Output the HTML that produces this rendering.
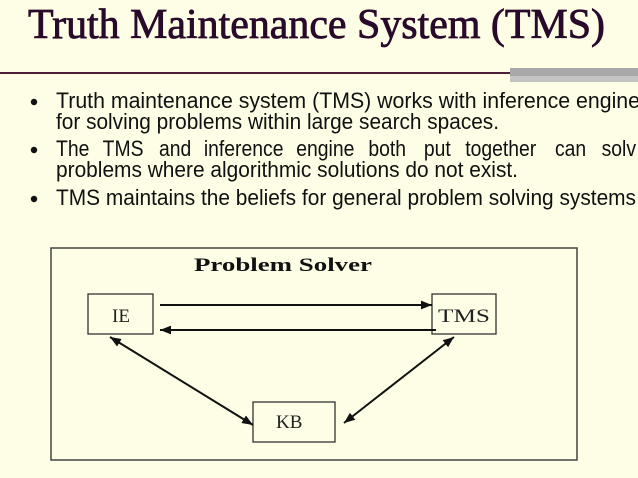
<!DOCTYPE html>
<html><head><style>html,body{margin:0;padding:0;background:#fefee6;width:638px;height:478px;overflow:hidden}</style></head>
<body>
<svg width="638" height="478" viewBox="0 0 638 478" xmlns="http://www.w3.org/2000/svg">
<defs>
<marker id="a" viewBox="0 0 10 10" refX="10" refY="5" markerWidth="11" markerHeight="11" markerUnits="userSpaceOnUse" orient="auto-start-reverse"><path d="M0,1 L10,5 L0,9 z" fill="#111"/></marker>
</defs>
<rect width="638" height="478" fill="#fefee6"/>
<text x="28" y="38" font-family="Liberation Serif, serif" font-size="42" fill="#2a0a2a" stroke="#2a0a2a" stroke-width="0.8" textLength="577" lengthAdjust="spacingAndGlyphs">Truth Maintenance System (TMS)</text>
<rect x="0" y="72" width="638" height="2" fill="#4a1f3a"/>
<rect x="510" y="68" width="128" height="14" fill="#a8a8a8"/>
<rect x="510" y="76" width="128" height="6" fill="#c4c4c4"/>
<g font-family="Liberation Sans, sans-serif" font-size="22" fill="#111">
<circle cx="34" cy="102" r="3.2"/><circle cx="34" cy="150" r="3.2"/><circle cx="34" cy="199" r="3.2"/>
<text x="56" y="108" textLength="584" lengthAdjust="spacingAndGlyphs">Truth maintenance system (TMS) works with inference engine</text>
<text x="56" y="129" textLength="443" lengthAdjust="spacingAndGlyphs">for solving problems within large search spaces.</text>
<g transform="translate(56,156) scale(0.88,1)"><text y="0"><tspan x="0">The</tspan><tspan x="53">TMS</tspan><tspan x="117">and</tspan><tspan x="168">inference</tspan><tspan x="273">engine</tspan><tspan x="355">both</tspan><tspan x="418">put</tspan><tspan x="465">together</tspan><tspan x="567">can</tspan><tspan x="620">solv</tspan></text></g>
<text x="56" y="177" textLength="462" lengthAdjust="spacingAndGlyphs">problems where algorithmic solutions do not exist.</text>
<text x="56" y="205" textLength="580" lengthAdjust="spacingAndGlyphs">TMS maintains the beliefs for general problem solving systems</text>
</g>
<rect x="51" y="248" width="526" height="212" fill="none" stroke="#444" stroke-width="1.5"/>
<text x="194" y="271" font-family="Liberation Serif, serif" font-weight="bold" font-size="19" fill="#111" textLength="178" lengthAdjust="spacingAndGlyphs">Problem Solver</text>
<g fill="none" stroke="#333" stroke-width="1.3">
<rect x="88" y="294" width="65" height="40"/>
<rect x="432" y="294" width="64" height="40"/>
<rect x="253" y="402" width="82" height="40"/>
</g>
<g font-family="Liberation Serif, serif" font-size="19" fill="#222">
<text x="112" y="322">IE</text>
<text x="438" y="322" textLength="52" lengthAdjust="spacingAndGlyphs">TMS</text>
<text x="276" y="428">KB</text>
</g>
<g stroke="#111" stroke-width="2" fill="none">
<line x1="160" y1="305" x2="432" y2="305" marker-end="url(#a)"/>
<line x1="436" y1="330" x2="160" y2="330" marker-end="url(#a)"/>
<line x1="110" y1="337" x2="253" y2="425" marker-start="url(#a)" marker-end="url(#a)"/>
<line x1="454" y1="337" x2="344" y2="423" marker-start="url(#a)" marker-end="url(#a)"/>
</g>
</svg>
</body></html>
